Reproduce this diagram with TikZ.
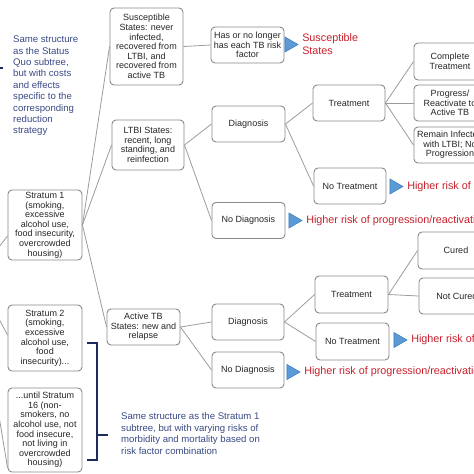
\documentclass[tikz,border=0pt]{standalone}
\usepackage{fontspec}
\setmainfont{Liberation Sans}
\usetikzlibrary{shapes.geometric}

\definecolor{boxgray}{HTML}{8A8A8A}
\definecolor{linkgray}{HTML}{9C9C9C}
\definecolor{riskred}{HTML}{C8202C}
\definecolor{noteblue}{HTML}{3A4A86}
\definecolor{bracenavy}{HTML}{1E2B5E}
\definecolor{tbblue}{HTML}{5B9BD5}
\definecolor{tbedge}{HTML}{3F7FBF}

\begin{document}
\begin{tikzpicture}[x=1pt, y=-1pt,
	box/.style={draw=boxgray, line width=0.9pt, rounded corners=4pt, fill=white, align=center,
		inner sep=1pt, minimum width=73pt, minimum height=36pt, text=black!85,
		font=\fontsize{9}{9.6}\selectfont},
	link/.style={draw=linkgray, line width=0.8pt},
	tbtri/.style={regular polygon, regular polygon sides=3, shape border rotate=-90,
		minimum size=17.3pt, inner sep=0pt, fill=tbblue, draw=tbedge, line width=0.6pt},
	risk/.style={text=riskred, anchor=west, align=left, inner sep=3.5pt,
		font=\fontsize{10.8}{13}\selectfont},
	note/.style={text=noteblue, anchor=west, align=left, inner sep=0pt,
		font=\fontsize{9.6}{11.4}\selectfont}]
							% 画布与裁剪
							\useasboundingbox (0,0) rectangle (474,474);
							\fill[white] (0,0) rectangle (474,474);
							\clip (0,0) rectangle (474,474);
							
							% 左侧说明文字
							\draw[bracenavy, line width=1.4pt] (0,68) -- (3,68);
							\node[note] (sqnote) at (13,86) {Same structure\\as the Status\\Quo subtree,\\but with costs\\and effects\\specific to the\\corresponding\\reduction\\strategy};
							
							% 分层节点
							\coordinate (root) at (-24,276);
							\node[box, minimum width=74pt, minimum height=70pt] (strat1) at (45,225) {Stratum 1\\(smoking,\\excessive\\alcohol use,\\food insecurity,\\overcrowded\\housing)};
							\node[box, minimum width=74pt, minimum height=66pt] (strat2) at (45,338) {Stratum 2\\(smoking,\\excessive\\alcohol use,\\food\\insecurity)...};
							\node[box, minimum width=74pt, minimum height=84pt] (strat16) at (45,430) {...until Stratum\\16 (non-\\smokers, no\\alcohol use, not\\food insecure,\\not living in\\overcrowded\\housing)};
							\draw[link] (root) -- ([yshift=-11pt]strat1.west);
							\draw[link] (root) -- ([yshift=3pt]strat2.west);
							\draw[link] (root) -- ([yshift=-38pt]strat16.west);
							
							% 状态节点
							\node[box, minimum height=77pt] (sus) at (146.5,46.5) {Susceptible\\States: never\\infected,\\recovered from\\LTBI, and\\recovered from\\active TB};
							\node[box, minimum width=72pt, minimum height=50pt] (ltbi) at (148,145) {LTBI States:\\recent, long\\standing, and\\reinfection};
							\node[box] (active) at (143.5,327) {Active TB\\States: new and\\relapse};
							
							% 易感分支
							\node[box] (has) at (247.5,45) {Has or no longer\\has each TB risk\\factor};
							\node[tbtri] (m1) at (289.3,44.5) {};
							\node[risk] (r1) at (m1.east) {Susceptible\\States};
							
							% 潜伏感染分支
							\node[box] (diag1) at (248.5,124) {Diagnosis};
							\node[box] (nodiag1) at (248.5,220.5) {No Diagnosis};
							\node[box, minimum width=72pt] (treat1) at (349,103) {Treatment};
							\node[box, minimum width=72pt] (notreat1) at (350,186) {No Treatment};
							\node[box, minimum width=72pt, minimum height=37pt] (complete) at (450,61.5) {Complete\\Treatment};
							\node[box, minimum width=72pt] (progress) at (450,103) {Progress/\\Reactivate to\\Active TB};
							\node[box, minimum width=72pt] (remain) at (450,145) {Remain Infected\\with LTBI; No\\Progression};
							\node[tbtri] (m2) at (394.3,186.5) {};
							\node[risk] (r2) at (m2.east) {Higher risk of progression/reactivation};
							\node[tbtri] (m3) at (293.3,220.5) {};
							\node[risk] (r3) at (m3.east) {Higher risk of progression/reactivation};
							
							% 活动性结核分支
							\node[box, minimum width=72pt] (diag2) at (248,322) {Diagnosis};
							\node[box, minimum width=72pt] (nodiag2) at (248,370) {No Diagnosis};
							\node[box, minimum height=37pt] (treat2) at (351.5,294.5) {Treatment};
							\node[box, minimum height=37pt] (notreat2) at (352.5,341.5) {No Treatment};
							\node[box, minimum width=76pt, minimum height=37pt] (cured) at (456,250.5) {Cured};
							\node[box, minimum width=76pt] (notcured) at (457,296) {Not Cured};
							\node[tbtri] (m4) at (398.3,340) {};
							\node[risk] (r4) at (m4.east) {Higher risk of progression/reactivation};
							\node[tbtri] (m5) at (291.3,372) {};
							\node[risk] (r5) at (m5.east) {Higher risk of progression/reactivation};
							
							% 连线
							\foreach \a/\b in {strat1/sus, strat1/ltbi, strat1/active, sus/has,
								ltbi/diag1, ltbi/nodiag1, diag1/treat1, diag1/notreat1,
								treat1/complete, treat1/progress, treat1/remain,
								active/diag2, active/nodiag2, diag2/treat2, diag2/notreat2,
								treat2/cured, treat2/notcured}
								\draw[link] (\a.east) -- (\b.west);
							
							% 右括号与说明
							\draw[bracenavy, line width=1.6pt] (87,343) -- (97,343) -- (97,460) -- (87,460);
							\draw[bracenavy, line width=1.6pt] (97,435) -- (108,435);
							\node[note] (stnote) at (121,433.5) {Same structure as the Stratum 1\\subtree, but with varying risks of\\morbidity and mortality based on\\risk factor combination};
						\end{tikzpicture}
\end{document}
